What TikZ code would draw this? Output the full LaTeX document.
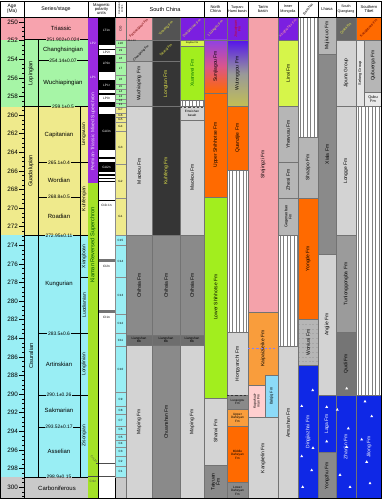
\documentclass[tikz,border=0pt]{standalone}
\usepackage{fontspec}
\setmainfont{Liberation Sans}
\usetikzlibrary{shapes.geometric}
\definecolor{TriPink}{HTML}{F7A3AE}
\definecolor{TarPink}{HTML}{F4A2AA}
\definecolor{LopGreen}{HTML}{A6F5A6}
\definecolor{GuaYellow}{HTML}{EFEA8C}
\definecolor{CisCyan}{HTML}{99EEF4}
\definecolor{CarbGrey}{HTML}{C9C9C9}
\definecolor{MagPurple}{HTML}{9A2BDF}
\definecolor{MagGreen}{HTML}{A3E227}
\definecolor{FmPurple}{HTML}{7B1FE0}
\definecolor{FmOrange}{HTML}{FF6A00}
\definecolor{FmAmber}{HTML}{F99D3C}
\definecolor{FmBlue}{HTML}{0F28E6}
\definecolor{FmLime}{HTML}{A2EE1E}
\definecolor{FmChart}{HTML}{D6F54A}
\definecolor{FmDark}{HTML}{353535}
\definecolor{FmMid}{HTML}{8A8A8A}
\definecolor{FmGrey}{HTML}{B6B6B6}
\definecolor{FmLight}{HTML}{D3D3D3}
\definecolor{TextYellow}{HTML}{E6E84A}

\newcommand{\rockunit}[8]{%
  \filldraw[unitedge,#6] (#2,#4) rectangle (#3,#5);
  \node[fmlabel,#7] (#1) at ({(#2+#3)/2},{(#4+#5)/2}) {#8};}
\newcommand{\hiatus}[4]{%
  \fill[white] (#1,#3) rectangle (#2,#4);
  \pgfmathsetmacro{\hxa}{#1+1.75}\pgfmathsetmacro{\hxb}{#1+5.25}%
  \foreach \hx in {\hxa,\hxb,...,#2} {\draw[hatchline] (\hx,#3) -- (\hx,#4);}
  \draw[unitedge] (#1,#3) rectangle (#2,#4);}

\begin{document}
\begin{tikzpicture}[x=0.5mm,y=-4.65mm,
  unitedge/.style={draw=black!55,line width=0.5pt},
  hatchline/.style={black!50,line width=0.45pt},
  fmlabel/.style={rotate=90,inner sep=0pt,align=center,font=\fontsize{7}{7.5}\selectfont},
  fmflat/.style={rotate=-90,font=\fontsize{4.5}{5}\selectfont},
  fmslant/.style={rotate=-45,font=\fontsize{5}{5.5}\selectfont},
  boundary/.style={black,line width=0.7pt},
  bndlabel/.style={inner sep=0.8pt,font=\fontsize{7}{7}\selectfont},
  stagetext/.style={inner sep=0pt,font=\fontsize{8.5}{9}\selectfont},
  serieslabel/.style={rotate=90,inner sep=0pt,font=\fontsize{8}{8}\selectfont},
  cnstage/.style={rotate=90,inner sep=0pt,font=\fontsize{7}{7}\selectfont},
  agelabel/.style={anchor=east,inner sep=0.5pt,font=\fontsize{9}{9}\selectfont},
  zoneline/.style={draw=black!45,line width=0.35pt},
  zonelabel/.style={inner sep=0pt,font=\fontsize{4.3}{4.3}\selectfont},
  maglabel/.style={inner sep=0.3pt,font=\fontsize{4.5}{4.5}\selectfont},
  chrontext/.style={rotate=90,inner sep=0pt},
  head/.style={align=center,inner sep=0pt,font=\fontsize{5.8}{6.2}\selectfont},
  headline/.style={draw=black,line width=0.5pt},
  tri/.style={regular polygon,regular polygon sides=3,fill=white,inner sep=0pt,minimum size=1.7mm}]
\useasboundingbox (0,247.634) rectangle (382,301.29);
\fill[white] (0,247.634) rectangle (382,301.29);

% time scale
\foreach \cl/\ta/\tb in {TriPink/249.46/251.902,LopGreen/251.902/259.1,GuaYellow/259.1/272.95,CisCyan/272.95/298.9,CarbGrey/298.9/301.29}
  {\fill[\cl] (0,\ta) rectangle (88,\tb);
   \fill[\cl] (115,\ta) rectangle (126,\tb);}
\foreach \i in {0,...,103} \draw[line width=0.4pt] (24,{249.5+\i/2}) -- (21.6,{249.5+\i/2});
\foreach \a in {250,252,...,300}
  {\draw[line width=0.5pt] (24,\a) -- (18.6,\a);
   \node[agelabel] (age\a) at (18.4,\a) {\a};}
\draw[boundary] (24,249.46) -- (24,301.29);
\draw[boundary] (38,251.902) -- (38,298.9);
\draw[boundary] (80,259.1) -- (80,298.9);
\draw[boundary] (88,249.46) -- (88,301.29);
\draw[boundary] (80,277.4) -- (88,277.4);
\foreach \a/\txt/\xl/\xr/\xc [count=\i] in {251.902/251.902±0.024/24/88/63,254.14/254.14±0.07/38/88/63,259.1/259.1±0.5/24/88/63,265.1/265.1±0.4/38/88/59,268.8/268.8±0.5/38/80/59,272.95/272.95±0.11/24/88/59,283.5/283.5±0.6/38/88/59,290.1/290.1±0.26/38/88/59,293.52/293.52±0.17/38/80/59,298.9/298.9±0.15/24/88/59}
  {\node[bndlabel] (bnd\i) at (\xc,\a) {\txt};
   \draw[boundary] (\xl,\a) -- (bnd\i.west);
   \draw[boundary] (bnd\i.east) -- (\xr,\a);}
\foreach \a/\txt/\xc [count=\i] in {250.7/Triassic/61,253.0/Changhsingian/63,256.6/Wuchiapingian/63,262.1/Capitanian/59,267.0/Wordian/59,270.9/Roadian/59,278.2/Kungurian/59,286.8/Artinskian/59,291.8/Sakmarian/59,296.2/Asselian/59,300.1/Carboniferous/57}
  \node[stagetext] (stage\i) at (\xc,\a) {\txt};
\node[serieslabel] (lopi) at (31,255.5) {Lopingian};
\node[serieslabel] (guad) at (31,266.0) {Guadalupian};
\node[serieslabel] (cisu) at (31,285.9) {Cisuralian};
\foreach \a/\txt [count=\i] in {262.1/Lengwuan,269.0/Kuhfengian,275.2/Xiangboan,280.45/Luodianian,286.8/Longlinian,294.5/Zisongian}
  \node[cnstage] (cn\i) at (84,\a) {\txt};

% magnetic polarity
\fill[MagPurple] (88,249.46) rectangle (98,267.3);
\fill[MagGreen] (88,267.3) rectangle (98,301.29);
\fill[white] (98,249.46) rectangle (115,301.29);
\foreach \ta/\tb in {249.46/252.47,252.90/253.06,253.55/255.38,256.24/257.31,257.63/257.85,258.60/259.14,259.89/263.76,264.52/264.73,265.05/266.13,266.29/266.56,266.72/266.88,267.04/267.20}
  \fill[black] (98,\ta) rectangle (115,\tb);
\fill[black!55] (98,275.48) rectangle (115,275.81);
\fill[black!55] (98,280.97) rectangle (115,281.29);
\draw[line width=0.5pt] (98,269.14) -- (115,269.14);
\draw[black!70,line width=0.9pt] (96,297.42) -- (115,297.42);
\draw[black!70,line width=0.9pt] (88,298.9) -- (115,298.9);
\draw[boundary] (98,249.46) -- (98,301.29);
\draw[boundary] (115,249.46) -- (115,301.29);
\node[maglabel,text=white] (lt1n) at (106.5,250.9) {LT1n};
\node[maglabel] (lp2r) at (106.5,253.3) {LP2r};
\node[maglabel,text=white] (lp2n) at (106.5,254.5) {LP2n};
\node[maglabel,text=white] (lp1r) at (106.5,256.8) {LP1r};
\node[maglabel] (lp0r) at (106.5,258.2) {LP0r};
\node[maglabel,text=white] (gu3n) at (106.5,261.8) {GU3n};
\node[maglabel,text=white] (gu2n) at (106.5,265.6) {GU2n};
\node[maglabel] (ci2r) at (106.5,269.7) {CI2r.1n};
\node[maglabel] (ci2n) at (106.5,276.3) {CI2n};
\node[maglabel] (ci1n) at (106.5,281.8) {CI1n};
\node[maglabel,text=white] (lp2) at (93,252.3) {LP2};
\node[maglabel,text=white] (lp1) at (93,256.0) {LP1};
\node[chrontext,text=white!85!MagPurple,font=\fontsize{7}{7}\selectfont] (ptmix) at (93,261.8) {Permian-Triassic Mixed Superchron};
\node[chrontext,text=green!35!black,font=\fontsize{8}{8}\selectfont] (kiaman) at (93,274) {Kiaman Reversed Superchron};
\node[maglabel,rotate=-50,text=black!70] (crl1n) at (94,297.0) {CrL1n};
\node[maglabel,text=black!70] (cr1n) at (93,299.4) {Cr1n};

% conodont zones
\draw[zoneline] (115,249.46) rectangle (126,251.902);
\node[zonelabel,rotate=90] (czT) at (120.5,250.7) {CIO};
\foreach \z/\ta/\tb in {L10/251.902/252.75,L9/252.75/253.45,L8/253.45/254.3,L7/254.3/255.7,L6/255.7/256.7,L5/256.7/257.25,L4/257.25/257.75,L3/257.75/258.25,L2/258.25/258.7,L1/258.7/259.1,G7/259.1/259.75,G6/259.75/260.25,G5/260.25/260.8,G4/260.8/261.7,G3/261.7/265.3,G2/265.3/268.9,G1/268.9/272.95,C15/272.95/274.0,C14/274.0/277.4,C13/277.4/281.4,C12/281.4/283.5,C11/283.5/284.9,C10/284.9/289.8,C9/289.8/291.3,C8/291.3/292.2,C7/292.2/293.4,C6/293.4/294.3,C5/294.3/294.95,C4/294.95/295.7,C3/295.7/296.7,C2/296.7/297.7,C1/297.7/298.9}
  {\draw[zoneline] (115,\ta) rectangle (126,\tb);
   \node[zonelabel] (cz\z) at (120.5,{(\ta+\tb)/2}) {\z};}

% South China
\rockunit{feix}{126}{152}{249.46}{251.902}{fill=TriPink}{fmslant,text=red!45!black}{Feixianguan Fm}
\rockunit{chxg}{126}{152}{251.902}{254.2}{fill=FmGrey!90!black}{}{}
\node[fmlabel,fmslant,font=\fontsize{4.6}{5}\selectfont] (chxgtxt) at (141,253.35) {Changxing Fm};
\node[zonelabel,anchor=north west,font=\fontsize{3.3}{3.3}\selectfont] (l1113) at (126.6,251.95) {L11–L13};
\rockunit{wuch}{126}{152}{254.2}{259.1}{fill=FmGrey}{}{Wuchiaping Fm}
\rockunit{maoka}{126}{152}{259.1}{272.95}{fill=FmLight}{}{Maokou Fm}
\rockunit{chiha}{126}{152}{272.95}{283.7}{fill=FmMid}{}{Chihsia Fm}
\rockunit{lsha}{126}{152}{283.7}{284.7}{fill=FmMid!80!black}{fmflat}{Liangshan\\Mb}
\rockunit{mapa}{126}{152}{284.7}{301.29}{fill=FmLight}{}{Maping Fm}
\rockunit{yink}{152}{180}{249.46}{251.902}{fill=FmDark!85!white}{fmslant,text=TextYellow}{Yinkeng Fm}
\rockunit{talu}{152}{180}{251.902}{254.2}{fill=FmDark}{fmslant,text=TextYellow}{Talung Fm}
\rockunit{ltan}{152}{180}{254.2}{259.1}{fill=FmDark}{text=TextYellow}{Longtan Fm}
\rockunit{kuhf}{152}{180}{259.1}{272.95}{fill=FmDark}{text=TextYellow}{Kuhfeng Fm}
\rockunit{chihb}{152}{180}{272.95}{283.7}{fill=FmMid}{}{Chihsia Fm}
\rockunit{lshb}{152}{180}{283.7}{284.7}{fill=FmMid!80!black}{fmflat}{Liangshan\\Mb}
\rockunit{chua}{152}{180}{284.7}{301.29}{fill=FmMid}{}{Chuanshan Fm}
\rockunit{dong}{180}{204}{249.46}{251.902}{fill=FmPurple}{fmslant,text=TextYellow}{Dongchuan Fm}
\rockunit{kayi}{180}{204}{251.902}{252.6}{fill=FmChart}{fmflat,font=\fontsize{3.5}{4}\selectfont}{Kayitou Fm}
\rockunit{xuan}{180}{204}{252.6}{258.4}{fill=FmLime}{text=green!45!black}{Xuanwei Fm}
\hiatus{180}{204}{258.4}{259.1}
\rockunit{emei}{180}{204}{259.1}{260.5}{fill=FmLight}{fmflat}{Emeishan\\basalt}
\draw[dashed,black!70] (180,259.1) -- (204,259.1);
\rockunit{maokc}{180}{204}{260.5}{272.95}{fill=FmLight}{}{Maokou Fm}
\rockunit{chihc}{180}{204}{272.95}{283.7}{fill=FmMid}{}{Chihsia Fm}
\rockunit{lshc}{180}{204}{283.7}{284.7}{fill=FmMid!80!black}{fmflat}{Liangshan\\Mb}
\rockunit{mapc}{180}{204}{284.7}{301.29}{fill=FmLight}{}{Maping Fm}

% North China
\rockunit{liuj}{204}{227}{249.46}{251.902}{fill=FmPurple}{fmslant,text=TextYellow}{Liujiagou Fm}
\rockunit{sunj}{204}{227}{251.902}{257.6}{top color=FmPurple!85!white,bottom color=FmOrange,middle color=red!60!FmPurple!70!white}{}{Sunjiagou Fm}
\rockunit{ushi}{204}{227}{257.6}{268.8}{fill=FmOrange}{}{Upper Shihhotse Fm}
\rockunit{lshi}{204}{227}{268.8}{290.4}{fill=FmLime}{}{Lower Shihhotse Fm}
\rockunit{shax}{204}{227}{290.4}{297.6}{fill=FmLight}{}{Shanxi Fm}
\rockunit{taiy}{204}{227}{297.6}{301.29}{fill=FmMid}{}{Taiyuan\\Fm}

% Turpan-Hami basin
\rockunit{jiuc}{227}{248}{249.46}{252.0}{fill=FmPurple}{font=\fontsize{5}{5.5}\selectfont,text=red!85!black}{Jiucaiyuan\\Fm}
\rockunit{wuto}{227}{248}{252.0}{259.1}{top color=FmPurple!70!blue,bottom color=GuaYellow!60!olive,middle color=black!40}{}{Wutonggou Fm}
\rockunit{quan}{227}{248}{259.1}{265.9}{fill=FmOrange}{}{Quanzijie Fm}
\hiatus{227}{248}{265.9}{283.4}
\rockunit{hong}{227}{248}{283.4}{290.1}{fill=FmLight}{}{Hongyanchi Fm}
\rockunit{luca}{227}{248}{290.1}{291.6}{fill=FmMid}{fmflat}{Lucaogou\\Fm}
\draw[dashed,black!80] (227,290.1) -- (248,290.1);
\rockunit{udah}{227}{248}{291.6}{293.5}{fill=FmAmber}{fmflat}{Upper\\Daheyan\\Fm}
\rockunit{mdah}{227}{248}{293.5}{299.5}{fill=FmOrange}{fmflat}{Middle\\Daheyan\\Fm}
\rockunit{ldah}{227}{248}{299.5}{301.29}{fill=FmMid}{fmflat}{Lower\\Daheyan\\Fm}

% Tarim basin
\rockunit{shaj}{248}{278}{249.46}{281.2}{fill=TarPink}{}{Shajingzi Fm}
\rockunit{kaip}{248}{278}{281.2}{289.0}{fill=FmAmber}{}{Kaipaizileike Fm}
\draw[dashed,blue!50] (248,285.1) -- (278,285.1);
\rockunit{balq}{265}{278}{287.96}{292.5}{fill=cyan!45}{font=\fontsize{5.5}{6}\selectfont}{Balqiq Fm}
\rockunit{kupu}{248}{265}{289.0}{292.5}{fill=pink!75}{font=\fontsize{5}{5.5}\selectfont}{Kupukuzi-\\man Fm}
\rockunit{kang}{248}{278}{292.5}{301.29}{fill=FmLight}{}{Kangkelin Fm}

% Inner Mongolia
\rockunit{xing}{278}{298}{249.46}{251.902}{fill=FmPurple}{fmslant,text=pink!85!red}{Xingfuzhilu Fm}
\rockunit{linx}{278}{298}{251.902}{259.1}{fill=FmChart}{}{Linxi Fm}
\rockunit{yhew}{278}{298}{259.1}{265.1}{fill=FmGrey}{}{Yhewusu Fm}
\rockunit{zhes}{278}{298}{265.1}{268.9}{fill=FmGrey}{}{Zhesi Fm}
\rockunit{gege}{278}{298}{268.9}{272.95}{fill=FmGrey}{font=\fontsize{5.5}{6}\selectfont}{Gegenaobao\\Fm}
\hiatus{278}{298}{272.95}{284.9}
\rockunit{amus}{278}{298}{284.9}{301.29}{fill=FmLight}{}{Amushan Fm}

% Baoshan
\hiatus{298}{318}{249.46}{262.4}
\rockunit{shaz}{298}{318}{262.4}{268.9}{fill=FmGrey}{}{Shazipo Fm}
\rockunit{yond}{298}{318}{268.9}{282.0}{fill=FmOrange}{}{Yongde Fm}
\fill[FmGrey] (298,282.0) rectangle (318,286.9);
\foreach \a in {282.5,283.0,...,286.5} \draw[densely dashed,black!35,line width=0.4pt] (298,\a) -- (318,\a);
\rockunit{woni}{298}{318}{282.0}{286.9}{fill=none}{}{Woniusi Fm}
\rockunit{ding}{298}{318}{286.9}{301.29}{fill=FmBlue}{text=white}{Dingjiazhai Fm}

% Lhasa
\rockunit{muji}{318}{336}{249.46}{253.5}{fill=FmGrey}{}{Mujiucuo Fm}
\rockunit{xial}{318}{336}{253.5}{275.0}{fill=FmMid}{}{Xiala Fm}
\rockunit{angj}{318}{336}{275.0}{290.1}{fill=FmLight}{}{Angjie Fm}
\rockunit{laga}{318}{336}{290.1}{296.3}{fill=FmBlue}{text=white}{Laga Fm}
\rockunit{yozh}{318}{336}{296.3}{301.29}{fill=FmMid}{}{Yongzhu Fm}

% South Qiangtang
\rockunit{qial}{336}{356}{249.46}{251.902}{fill=FmDark!75!white}{fmslant,text=TextYellow}{Qiala Fm}
\rockunit{jipu}{336}{356}{251.902}{259.1}{fill=FmLight}{}{Jipuna Group}
\rockunit{lgge}{336}{356}{259.1}{272.95}{fill=FmLight}{}{Longge Fm}
\rockunit{tunl}{336}{356}{272.95}{283.4}{fill=FmGrey!85!black}{}{Tunlonggongba Fm}
\rockunit{qudi}{336}{356}{283.4}{290.1}{fill=FmMid!85!black}{}{Qudi Fm}
\rockunit{zhan}{336}{356}{290.1}{301.29}{fill=FmBlue}{text=white}{Zhanjin Fm}

% Southern Tibet
\rockunit{kans}{356}{382}{249.46}{251.902}{fill=FmOrange}{fmslant,text=red!40!black}{Kangshare Fm}
\rockunit{selo}{356}{364}{251.902}{259.1}{fill=FmLight!60!white}{font=\fontsize{5.5}{6}\selectfont}{Selong Group}
\rockunit{qubg}{364}{382}{251.902}{257.5}{fill=FmGrey}{}{Qubuerga Fm}
\rockunit{qubu}{364}{382}{257.5}{259.1}{fill=FmLight!50!white}{fmflat,font=\fontsize{5.5}{6}\selectfont}{Qubu\\Fm}
\hiatus{356}{382}{259.1}{290.1}
\rockunit{jilo}{356}{382}{290.1}{301.29}{fill=FmBlue}{text=white}{Jilong Fm}

% volcanic marks
\foreach \p [count=\k] in {(312.7,289.6),(301.7,291.3),(313,295.8),(301.7,296.7),(311.7,298.2),(302.7,300.0),(326.7,291.4),(326.7,295.1),(346.7,289.4),(337.3,291.7),(348.3,293.7),(346.7,295.7),(340,298.7),(350,300.0),(365,290.8),(371.7,292.4),(361.7,294.9),(366.7,297.3),(370,299.6)}
  \node[tri] (vol\k) at \p {};

% header row
\foreach \xl/\xr in {0/24,24/88,88/115,115/126,126/204,204/227,227/248,248/278,278/298,298/318,318/336,336/356,356/382}
  \draw[headline] (\xl,247.74) rectangle (\xr,249.46);
\node[head,font=\fontsize{7}{7.5}\selectfont] (hAge) at (12,248.6) {Age\\(Ma)};
\node[head,font=\fontsize{7.5}{7.5}\selectfont] (hSer) at (56,248.6) {Series/stage};
\node[head] (hMag) at (101.5,248.6) {Magnetic\\polarity\\units};
\node[head,rotate=90,font=\fontsize{3.8}{4}\selectfont] (hCon) at (120.5,248.6) {Conodont\\zones};
\node[head,font=\fontsize{8}{8}\selectfont] (hSC) at (165,248.6) {South China};
\node[head] (hNC) at (215.5,248.6) {North\\China};
\node[head,font=\fontsize{5.3}{6}\selectfont] (hTH) at (237.5,248.6) {Turpan-\\Hami basin};
\node[head] (hTa) at (263,248.6) {Tarim\\basin};
\node[head,font=\fontsize{5.3}{6}\selectfont] (hIM) at (288,248.6) {Inner\\Mongolia};
\node[head,rotate=50,font=\fontsize{5}{6}\selectfont] (hBa) at (308,248.6) {Baoshan};
\node[head] (hLh) at (327,248.6) {Lhasa};
\node[head,font=\fontsize{5.1}{6}\selectfont] (hSQ) at (346,248.6) {South\\Qiangtang};
\node[head] (hST) at (369,248.6) {Southern\\Tibet};

\draw[line width=0.7pt] (0.4,247.74) rectangle (381.6,301.2);
\end{tikzpicture}
\end{document}
